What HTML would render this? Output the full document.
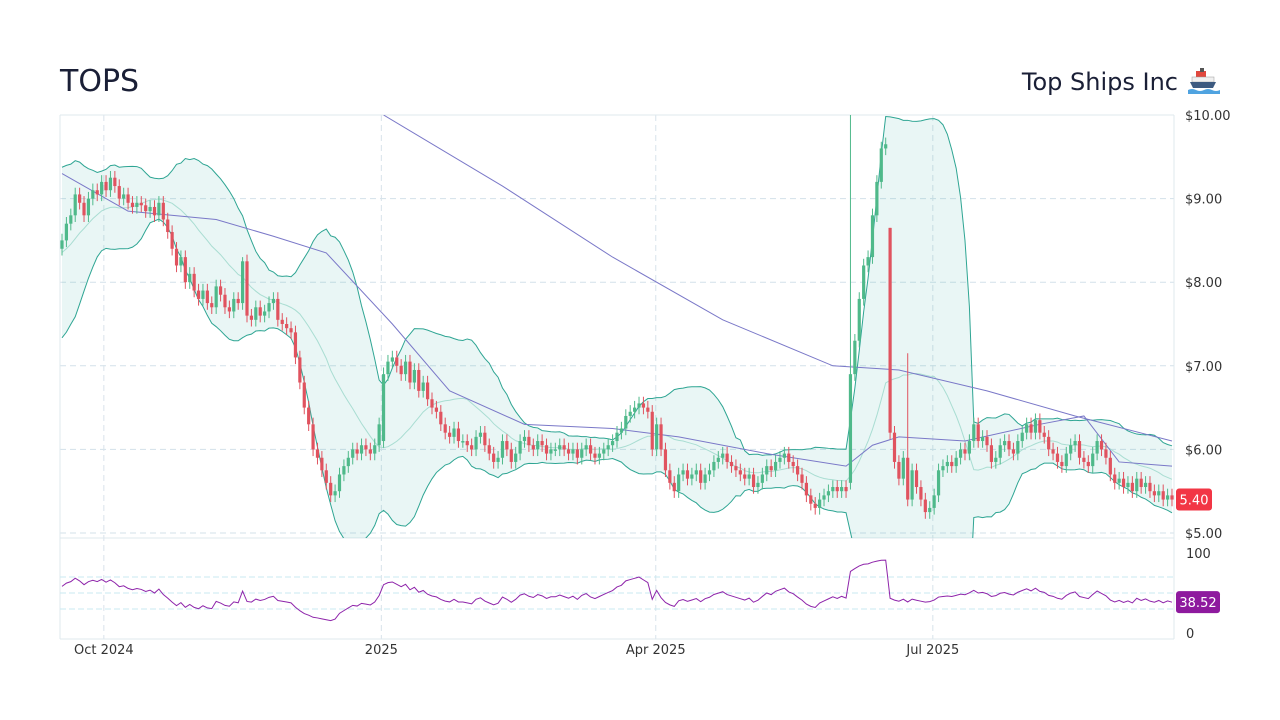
<!DOCTYPE html>
<html><head><meta charset="utf-8"><style>
body{margin:0;background:#fff;font-family:"Liberation Sans","DejaVu Sans",sans-serif;}
#wrap{position:relative;width:1280px;height:720px;overflow:hidden}
.t{position:absolute;color:#1a1f36}
</style></head><body><div id="wrap">
<div class="t" style="left:60px;top:64px;font-size:30px;font-family:'DejaVu Sans',sans-serif">TOPS</div>
<div class="t" style="right:102px;top:68px;font-size:24px;font-family:'DejaVu Sans',sans-serif">Top Ships Inc</div>
<svg style="position:absolute;left:1188px;top:68px" width="32" height="26" viewBox="0 0 32 26"><rect x="8" y="3" width="10" height="6" fill="#e0483e"/><rect x="12" y="0" width="4" height="4" fill="#555"/><rect x="4" y="9" width="22" height="5" fill="#f0f0f0" stroke="#999" stroke-width="0.5"/><path d="M2 14 L28 14 L25 20 L5 20 Z" fill="#3d5a80"/><path d="M0 22 Q4 20 8 22 T16 22 T24 22 T32 22 L32 26 L0 26Z" fill="#4fa3e0"/></svg>
<svg id="chart" width="1280" height="720" style="position:absolute;left:0;top:0"></svg>
</div>
<script>
const preClose=[7.9,7.8,7.7,7.75,7.6,7.7,7.8,7.95,8.1,8.3,8.6,8.9,9.1,9.2,9.0,8.9,8.7,8.6,8.5,8.4];
const closes=[8.5,8.7,8.8,9.05,8.95,8.8,9.0,9.1,9.05,
9.2,9.1,9.25,9.15,9.0,9.05,8.95,8.9,8.95,8.92,8.85,8.9,8.8,8.95,8.75,8.6,8.4,8.2,8.3,8.0,8.1,7.9,7.8,
7.9,7.75,7.7,7.95,7.85,7.7,7.65,7.8,7.75,8.25,7.6,7.55,7.7,7.6,7.65,7.75,7.8,7.55,7.5,7.45,
7.4,7.1,6.8,6.5,6.3,6.0,5.9,5.75,5.6,5.45,5.5,5.7,5.8,5.9,6.0,5.95,6.05,6.0,5.95,6.05,
6.3,6.9,7.05,7.1,7.0,6.9,7.05,6.8,6.95,6.7,6.8,6.6,6.5,6.45,6.3,6.2,6.15,6.25,6.1,6.1,6.05,
6.0,6.15,6.2,6.05,5.95,5.85,5.9,6.1,6.0,5.85,5.95,6.1,6.15,6.05,6.0,6.1,6.05,5.95,6.0,6.0,
6.05,6.0,5.95,6.0,5.9,6.0,6.05,5.95,5.9,5.95,6.0,6.05,6.1,6.2,6.25,6.4,6.45,6.5,6.55,6.5,6.45,6.0,
6.3,6.0,5.75,5.6,5.5,5.7,5.75,5.65,5.7,5.75,5.6,5.7,5.75,5.85,5.9,5.95,5.85,5.8,5.75,5.7,5.65,5.7,
5.55,5.6,5.7,5.8,5.75,5.85,5.9,5.95,5.85,5.8,5.7,5.6,5.45,5.35,5.3,5.4,5.45,5.5,5.55,5.5,5.55,5.5,
6.9,7.3,7.8,8.2,8.3,8.8,9.2,9.6,9.65,6.2,5.85,5.65,5.9,5.4,5.75,5.55,5.4,5.25,5.3,
5.45,5.75,5.8,5.85,5.8,5.9,6.0,5.95,6.1,6.3,6.1,6.15,6.05,5.85,5.9,6.05,6.1,6.0,5.95,6.1,
6.2,6.3,6.2,6.35,6.2,6.15,6.0,5.95,5.85,5.8,5.95,6.05,6.1,5.9,5.85,5.8,5.95,6.1,6.0,5.9,
5.7,5.6,5.65,5.55,5.6,5.5,5.65,5.55,5.6,5.5,5.45,5.5,5.4,5.45,5.4];
const openOverrides=[[188,8.65],[179,5.6],[73,6.1]];
const highSpikes=[[179,10.0],[192,7.15],[41,8.3],[188,8.65]];
const sma50=[[0,9.3],[15,8.85],[35,8.75],[48,8.55],[60,8.35],[75,7.5],[88,6.7],[105,6.3],[125,6.25],[140,6.15],[160,5.95],[178,5.8],[184,6.05],[190,6.15],[205,6.1],[222,6.3],[232,6.4],[240,5.85],[252,5.8]];
const sma200=[[73,10.0],[100,9.15],[125,8.3],[150,7.55],[175,7.0],[190,6.95],[210,6.7],[230,6.4],[252,6.1]];
const priceTicks=[5,6,7,8,9,10];
const dateTicks=[["Oct 2024",9.5],["2025",72.5],["Apr 2025",134.8],["Jul 2025",197.7]];
const rsiTicks=[0,100];
const NS="http://www.w3.org/2000/svg";const svg=document.getElementById('chart');
const X0=62,X1=1172,N=closes.length,step=(X1-X0)/(N-1);
const xs=i=>X0+i*step;const ys=p=>115+(10-p)*83.6;const yr=v=>633-v*0.8;
function mk(t,a,p){const e=document.createElementNS(NS,t);for(const k in a)e.setAttribute(k,a[k]);(p||svg).appendChild(e);return e;}
const clip=mk('clipPath',{id:'pc'});mk('rect',{x:60,y:115,width:1114,height:423},clip);
priceTicks.forEach(p=>{const l=mk('line',{x1:60,x2:1174,y1:ys(p),y2:ys(p),stroke:'#d3e1ea','stroke-dasharray':'6,4'});

const t=mk('text',{x:1185,y:ys(p)+5,'font-size':13,fill:'#333','font-family':'DejaVu Sans,sans-serif'});t.textContent='$'+p.toFixed(2);
});
dateTicks.forEach(d=>{const x=xs(d[1]);const l=mk('line',{x1:x,x2:x,y1:115,y2:639,stroke:'#d8e3ea','stroke-dasharray':'6,4'});

const t=mk('text',{x:x,y:654,'font-size':13,fill:'#333','text-anchor':'middle','font-family':'DejaVu Sans,sans-serif'});t.textContent=d[0];
});
[[60,115,60,639],[60,115,1174,115],[1174,115,1174,639],[60,538,1174,538],[60,639,1174,639]].forEach(a=>{const l=mk('line',{x1:a[0],y1:a[1],x2:a[2],y2:a[3],stroke:'#dfe8ee'});
});
const all=preClose.concat(closes),P=preClose.length;const up=[],lo=[],mid=[];
for(let i=0;i<N;i++){const w=all.slice(i+P-19,i+P+1);const m=w.reduce((a,b)=>a+b)/20;const sd=Math.sqrt(w.reduce((a,b)=>a+(b-m)*(b-m),0)/20);mid.push(m);up.push(m+2*sd);lo.push(m-2*sd);}
const g=mk('g',{'clip-path':'url(#pc)'});
let d='M'+up.map((v,i)=>xs(i)+','+ys(v)).join('L')+'L'+lo.map((v,i)=>xs(i)+','+ys(v)).reverse().join('L')+'Z';
const bf=mk('path',{d:d,fill:'rgba(38,166,154,0.1)'},g);
[[up,'#2ea593','bollinger-upper'],[lo,'#2ea593','bollinger-lower'],[mid,'#a9ddd2','bollinger-middle']].forEach(s=>{
const p=mk('path',{d:'M'+s[0].map((v,i)=>xs(i)+','+ys(v)).join('L'),fill:'none',stroke:s[1],'stroke-width':1},g);
});
[[sma50,'sma-50-line'],[sma200,'sma-200-line']].forEach(s=>{const p=mk('path',{d:'M'+s[0].map(q=>xs(q[0])+','+ys(q[1])).join('L'),fill:'none',stroke:'#7a78c8','stroke-width':1},g);
});
const hs={};highSpikes.forEach(h=>hs[h[0]]=h[1]);const oo={};openOverrides.forEach(h=>oo[h[0]]=h[1]);
for(let i=0;i<N;i++){const o=oo[i]!==undefined?oo[i]:(i?closes[i-1]:preClose[P-1]),c=closes[i];const upC=c>=o;const col=upC?'#4fb98a':'#e0535f';
const hi=hs[i]!==undefined?hs[i]:Math.max(o,c)+0.08,low=Math.min(o,c)-0.08;
const cg=mk('g',{},g);
mk('line',{x1:xs(i),x2:xs(i),y1:ys(hi),y2:ys(low),stroke:col,'stroke-width':1},cg);
mk('rect',{x:xs(i)-1.6,y:ys(Math.max(o,c)),width:3.2,height:Math.max(1.5,Math.abs(ys(o)-ys(c))),fill:col},cg);}
const lp=closes[N-1];const lb=mk('rect',{x:1176,y:ys(lp)-11,width:36,height:22,rx:3,fill:'#f23645'});
const lt=mk('text',{x:1194,y:ys(lp)+5,'font-size':13,fill:'#fff','text-anchor':'middle','font-family':'DejaVu Sans,sans-serif'});lt.textContent=lp.toFixed(2);
[70,50,30].forEach(v=>{const l=mk('line',{x1:60,x2:1174,y1:yr(v),y2:yr(v),stroke:'#c8eaf2','stroke-dasharray':'6,3'});});
rsiTicks.forEach(v=>{const t=mk('text',{x:1186,y:yr(v)+5,'font-size':13,fill:'#333','font-family':'DejaVu Sans,sans-serif'});t.textContent=v;});
let ag=0,al=0;const rsi=[];for(let k=1;k<all.length;k++){const ch=all[k]-all[k-1];const gn=Math.max(ch,0),ls=Math.max(-ch,0);
if(k<=14){ag+=gn/14;al+=ls/14;}else{ag=(ag*13+gn)/14;al=(al*13+ls)/14;}if(k>=P){rsi.push(al===0?100:100-100/(1+ag/al));}}
const rp=mk('path',{d:'M'+rsi.map((v,i)=>xs(i)+','+yr(v)).join('L'),fill:'none',stroke:'#8e24aa','stroke-width':1});
const rv=rsi[N-1];const rb=mk('rect',{x:1176,y:yr(rv)-11,width:44,height:22,rx:3,fill:'#8e1a9e'});
const rt=mk('text',{x:1198,y:yr(rv)+5,'font-size':13,fill:'#fff','text-anchor':'middle','font-family':'DejaVu Sans,sans-serif'});rt.textContent=rv.toFixed(2);
</script></body></html>
